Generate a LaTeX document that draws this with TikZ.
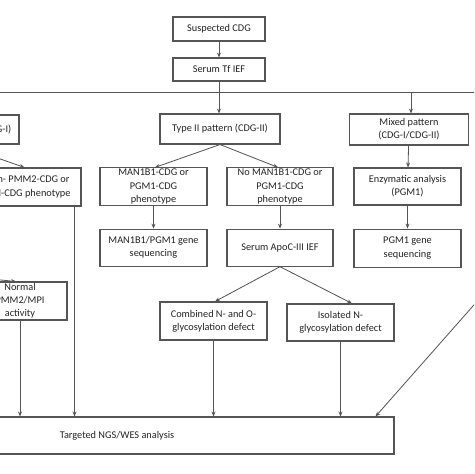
\documentclass[tikz,border=0pt]{standalone}
\usepackage{fontspec}
\setmainfont{Carlito}
\usetikzlibrary{arrows.meta, positioning, calc}
\definecolor{linegray}{RGB}{85,85,85}
\definecolor{textgray}{RGB}{35,35,35}
\newcommand{\pxu}{0.03cm}

\begin{document}
\begin{tikzpicture}[
    x=\pxu, y=-\pxu,
    % --- Global Styles ---
    base/.style={draw=linegray, line width=0.9pt, align=center, inner sep=1pt, text=textgray, font=\fontsize{8.8}{11.3}\selectfont},
    box/.style 2 args={base, rectangle, minimum width=#1*\pxu, minimum height=#2*\pxu},
    arrow/.style={-{Stealth[length=4.2pt,width=3.4pt]}, line width=0.7pt, draw=linegray},
    link/.style={line width=0.7pt, draw=linegray}
]
    \useasboundingbox (0,0) rectangle (474,474);
    \clip (0,0) rectangle (474,474);

    % --- Nodes ---
    \node[box={92}{24}] (suspected) at (219,29) {Suspected CDG};
    \node[box={92}{23}] (serumtf) at (219,69.5) {Serum Tf IEF};
    \coordinate (split) at (219,92);
    \coordinate (farright) at (540,92);

    \node[box={106}{29}] (typeI) at (-34,129.5) {Type I pattern (CDG-I)};
    \node[box={120}{30}] (typeII) at (220,129) {Type II pattern (CDG-II)};
    \node[box={119}{31}] (mixed) at (409,129.5) {Mixed pattern\\(CDG-I/CDG-II)};

    \node[box={107}{38}] (pmm2pheno) at (27.5,187) {Non- PMM2-CDG or\\MPI-CDG phenotype};
    \node[box={107}{37}] (man1b1pheno) at (153.5,186.5) {MAN1B1-CDG or\\PGM1-CDG\\phenotype};
    \node[box={106}{37}] (noman1b1) at (280,186.5) {No MAN1B1-CDG or\\PGM1-CDG\\phenotype};
    \node[box={107}{37}] (enzpgm1) at (407.5,186.5) {Enzymatic analysis\\(PGM1)};

    \node[box={107}{37}, below=0.69cm of man1b1pheno] (man1b1seq) {MAN1B1/PGM1 gene\\sequencing};
    \node[box={106}{37}, below=0.69cm of noman1b1] (apoc) {Serum ApoC-III IEF};
    \node[box={107}{38}, below=0.69cm of enzpgm1] (pgm1seq) {PGM1 gene\\sequencing};

    \node[box={94}{38}] (normal) at (20,301) {Normal\\PMM2/MPI\\activity};
    \node[box={107}{38}] (combined) at (213.5,321) {Combined N- and O-\\glycosylation defect};
    \node[box={107}{37}] (isolated) at (340.5,322.5) {Isolated N-\\glycosylation defect};

    \node[box={554}{37}] (targeted) at (117,435.5) {Targeted NGS/WES analysis};

    % --- Loose ends leaving the frame ---
    \coordinate (pmmenz) at (-30,277);
    \coordinate (rightsrc) at (503,272);
    \coordinate (pmmdrop) at ($(pmm2pheno.south east)+(-7,0)$);

    % --- Flow ---
    \draw[arrow] (suspected) -- (serumtf);
    \draw[arrow] (serumtf.south) -- (serumtf.south |- typeII.north);
    \draw[link] (typeI.north |- split) -- (farright);
    \draw[arrow] (typeI.north |- split) -- (typeI.north);
    \draw[arrow] ($(mixed.north |- split)+(2,0)$) -- ($(mixed.north)+(2,0)$);

    \draw[arrow] ($(typeI.south)+(-7,0)$) -- ($(pmm2pheno.north)+(-3,0)$);
    \draw[arrow] (typeII.south) -- ($(man1b1pheno.north)+(1.5,0)$);
    \draw[arrow] (typeII.south) -- ($(noman1b1.north)+(-2,0)$);

    \draw[arrow] (man1b1pheno) -- (man1b1seq);
    \draw[arrow] (noman1b1) -- (apoc);
    \draw[arrow] (mixed) -- (enzpgm1);
    \draw[arrow] (enzpgm1) -- (pgm1seq);

    \draw[arrow] (apoc.south) -- ($(combined.north)+(1.5,0)$);
    \draw[arrow] (apoc.south) -- ($(isolated.north)+(11.5,0)$);
    \draw[arrow] (pmmenz) -- ($(normal.north)+(-4,0)$);

    % --- Into the sequencing box ---
    \draw[arrow] (pmmdrop) -- (pmmdrop |- targeted.north);
    \draw[arrow] (normal.south) -- (normal.south |- targeted.north);
    \draw[arrow] (combined.south) -- (combined.south |- targeted.north);
    \draw[arrow] (isolated.south) -- (isolated.south |- targeted.north);
    \draw[arrow] (rightsrc) -- ($(targeted.north east)+(-19,0)$);
\end{tikzpicture}
\end{document}
